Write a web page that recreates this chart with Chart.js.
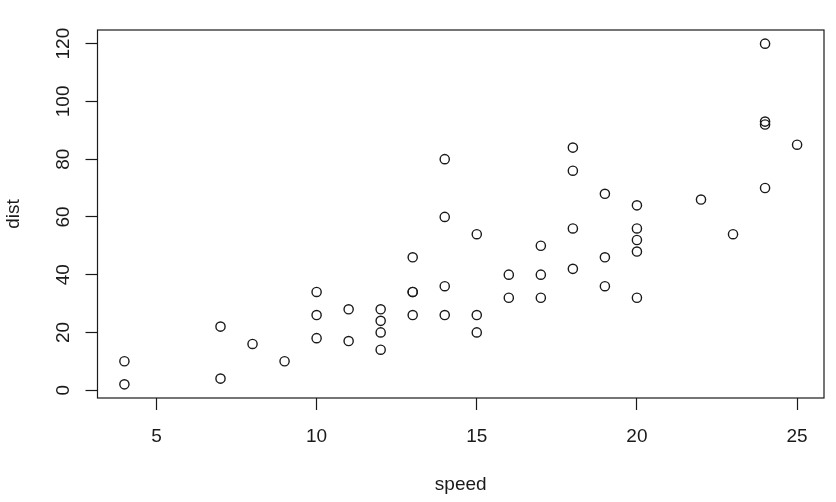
<!DOCTYPE html>
<html>
<head>
<meta charset="utf-8">
<script src="https://cdn.jsdelivr.net/npm/chart.js@4.4.1/dist/chart.umd.min.js"></script>
<style>
  html, body { margin: 0; padding: 0; background: #fff; }
  #wrap { width: 836px; height: 502px; }
</style>
</head>
<body>
<div id="wrap"><canvas id="plot" width="836" height="502"></canvas></div>
<script>
// cars data set: speed (mph) vs stopping distance (ft)
const speed = [4, 4, 7, 7, 8, 9, 10, 10, 10, 11, 11, 12, 12, 12, 12, 13, 13, 13, 13, 14,
  14, 14, 14, 15, 15, 15, 16, 16, 17, 17, 17, 18, 18, 18, 18, 19, 19, 19, 20, 20,
  20, 20, 20, 22, 23, 24, 24, 24, 24, 25];
const dist = [2, 10, 4, 22, 16, 10, 18, 26, 34, 17, 28, 14, 20, 24, 28, 26, 34, 34, 46, 26,
  36, 60, 80, 20, 26, 54, 32, 40, 32, 40, 50, 42, 56, 76, 84, 36, 46, 68, 32, 48,
  52, 56, 64, 66, 54, 70, 92, 93, 120, 85];
const xTicks = [5, 10, 15, 20, 25];
const yTicks = [0, 20, 40, 60, 80, 100, 120];

const fontFamily = "'Liberation Sans', Arial, Helvetica, sans-serif";
const ink = "#1a1a1a";

// R style axis range: data range stretched by 4% on each side
const pad = (arr) => {
  const lo = Math.min(...arr), hi = Math.max(...arr);
  const d = (hi - lo) * 0.04;
  return [lo - d, hi + d];
};
const [xMin, xMax] = pad(speed);
const [yMin, yMax] = pad(dist);

const points = speed.map((s, i) => ({ x: s, y: dist[i] }));

new Chart(document.getElementById("plot").getContext("2d"), {
  type: "scatter",
  data: {
    datasets: [{
      data: points,
      pointStyle: "circle",
      pointRadius: 4.6,
      pointBorderWidth: 1.4,
      pointBorderColor: ink,
      pointBackgroundColor: "rgba(0,0,0,0)",
    }],
  },
  options: {
    responsive: false,
    animation: false,
    events: [],
    layout: { padding: { left: 0, top: 30, right: 12, bottom: 0 } },
    plugins: { legend: { display: false }, tooltip: { enabled: false } },
    scales: {
      x: {
        type: "linear",
        min: xMin,
        max: xMax,
        afterBuildTicks: (scale) => { scale.ticks = xTicks.map((v) => ({ value: v })); },
        afterFit: (scale) => { scale.height = 104; },
        grid: { drawOnChartArea: false, tickLength: 12, color: ink, tickWidth: 1.2 },
        border: { display: false },
        ticks: { color: ink, font: { family: fontFamily, size: 19 }, padding: 15, maxRotation: 0 },
        title: { display: true, text: "speed", color: ink, font: { family: fontFamily, size: 19 }, padding: { top: 28, bottom: 6 } },
      },
      y: {
        type: "linear",
        min: yMin,
        max: yMax,
        afterBuildTicks: (scale) => { scale.ticks = yTicks.map((v) => ({ value: v })); },
        afterFit: (scale) => { scale.width = 97.5; },
        grid: { drawOnChartArea: false, tickLength: 12, color: ink, tickWidth: 1.2 },
        border: { display: false },
        ticks: { color: ink, font: { family: fontFamily, size: 19 }, padding: 6, minRotation: 90, maxRotation: 90, crossAlign: "center" },
        title: { display: true, text: "dist", color: ink, font: { family: fontFamily, size: 19 }, padding: { top: 2 } },
      },
    },
  },
  plugins: [{
    // the plot box around the chart area
    id: "box",
    afterDraw: (chart) => {
      const { ctx, chartArea: a } = chart;
      ctx.save();
      ctx.strokeStyle = ink;
      ctx.lineWidth = 1.2;
      ctx.strokeRect(a.left, a.top, a.right - a.left, a.bottom - a.top);
      ctx.restore();
    },
  }],
});
</script>
</body>
</html>
